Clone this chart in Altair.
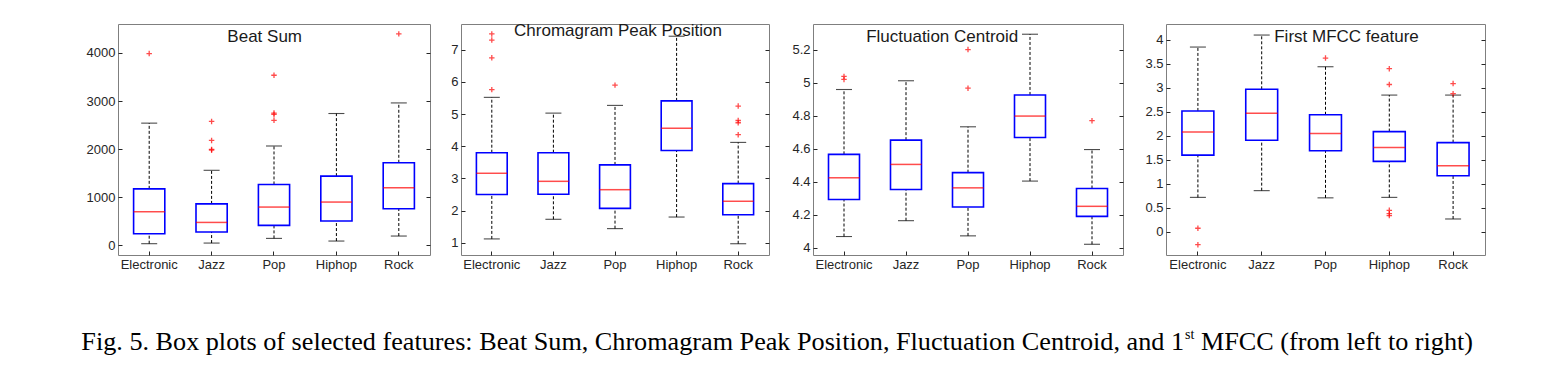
import altair as alt
import pandas as pd

categories = ["Electronic", "Jazz", "Pop", "Hiphop", "Rock"]
titles = ["Beat Sum", "Chromagram Peak Position", "Fluctuation Centroid", "First MFCC feature"]

# Beat Sum
beat_low = [35, 48, 145, 90, 194]
beat_q1 = [242, 277, 415, 505, 761]
beat_med = [699, 477, 796, 900, 1197]
beat_q3 = [1175, 862, 1266, 1439, 1716]
beat_high = [2540, 1560, 2065, 2740, 2960]
beat_out = [[3985], [2575, 2180, 1995, 1978], [3535, 2750, 2720, 2598], [], [4395]]

# Chromagram Peak Position
chroma_low = [1.12, 1.73, 1.44, 1.80, 0.97]
chroma_q1 = [2.50, 2.51, 2.07, 3.87, 1.87]
chroma_med = [3.16, 2.91, 2.65, 4.56, 2.29]
chroma_q3 = [3.80, 3.80, 3.42, 5.41, 2.84]
chroma_high = [5.52, 5.03, 5.27, 7.42, 4.12]
chroma_out = [[7.49, 7.30, 6.75, 5.76], [], [5.90], [], [5.25, 4.80, 4.73, 4.36]]

# Fluctuation Centroid
fluct_low = [4.067, 4.163, 4.071, 4.403, 4.020]
fluct_q1 = [4.291, 4.352, 4.246, 4.667, 4.189]
fluct_med = [4.423, 4.504, 4.362, 4.797, 4.250]
fluct_q3 = [4.565, 4.651, 4.454, 4.925, 4.358]
fluct_high = [4.958, 5.011, 4.732, 5.293, 4.594]
fluct_out = [[5.037, 5.019], [], [5.200, 4.966], [], [4.769]]

# First MFCC feature
mfcc_low = [0.72, 0.86, 0.71, 0.72, 0.27]
mfcc_q1 = [1.60, 1.91, 1.69, 1.47, 1.17]
mfcc_med = [2.08, 2.47, 2.05, 1.76, 1.38]
mfcc_q3 = [2.52, 2.97, 2.44, 2.09, 1.86]
mfcc_high = [3.85, 4.10, 3.44, 2.85, 2.85]
mfcc_out = [[0.077, -0.265], [], [3.62], [3.40, 3.07, 0.45, 0.38, 0.34], [3.09, 2.88]]

y_domains = [[-200, 4600], [0.62, 7.8], [3.955, 5.355], [-0.48, 4.33]]
y_ticks = [[0, 1000, 2000, 3000, 4000],
           [1, 2, 3, 4, 5, 6, 7],
           [4.0, 4.2, 4.4, 4.6, 4.8, 5.0, 5.2],
           [0, 0.5, 1, 1.5, 2, 2.5, 3, 3.5, 4]]
y_formats = ["d", "d", ".1~f", ".1~f"]

caption_a = "Fig. 5. Box plots of selected features: Beat Sum, Chromagram Peak Position, Fluctuation Centroid, and 1"
caption_sup = "st"
caption_b = "MFCC (from left to right)"

# layout / style
widths = [312, 308, 310, 319]
HEIGHT = 231
extents = [44, 30, 43, 42]
title_pos = [(146.7, 17.7), (157, 12), (129.2, 18.3), (180.5, 17.7)]
SANS = "Liberation Sans"
SERIF = "Liberation Serif"
FRAME = "#7f7f7f"
CAP_ORIGIN = 115  # page x of caption view origin
CAP_Y = 76.5


def panel(i, lo, q1, med, q3, hi, outs):
    w = widths[i]
    df = pd.DataFrame({"cat": categories, "lo": lo, "q1": q1, "med": med, "q3": q3, "hi": hi})
    od = pd.DataFrame([{"cat": c, "v": v} for c, vs in zip(categories, outs) for v in vs])
    tdf = pd.DataFrame({"t": [titles[i]]})

    xs = alt.X("cat:N", sort=categories, title=None,
               scale=alt.Scale(paddingInner=0.5, paddingOuter=0.25),
               axis=alt.Axis(labelAngle=0, tickSize=4, offset=-4, domain=False,
                             labelPadding=3, grid=False))
    ysc = alt.Scale(domain=y_domains[i], nice=False, zero=False)
    left_axis = alt.Axis(values=y_ticks[i], format=y_formats[i], tickSize=4, offset=-4,
                         domain=False, labelPadding=3, grid=False,
                         minExtent=extents[i], maxExtent=extents[i])
    right_axis = alt.Axis(orient="right", values=y_ticks[i], labels=False, tickSize=4,
                          offset=-4, domain=False, grid=False, minExtent=0, maxExtent=0)

    base = alt.Chart(df)
    upper = base.mark_rule(color="black", strokeDash=[3, 2], strokeWidth=1).encode(
        x=xs, y=alt.Y("q3:Q", scale=ysc, axis=left_axis, title=None), y2="hi:Q")
    lower = base.mark_rule(color="black", strokeDash=[3, 2], strokeWidth=1).encode(
        x=xs, y=alt.Y("lo:Q", scale=ysc, axis=None, title=None), y2="q1:Q")
    cap_hi = base.mark_tick(color="black", size=16, thickness=1.1).encode(
        x=xs, y=alt.Y("hi:Q", scale=ysc, axis=None, title=None))
    cap_lo = base.mark_tick(color="black", size=16, thickness=1.1).encode(
        x=xs, y=alt.Y("lo:Q", scale=ysc, axis=None, title=None))
    box = base.mark_bar(fillOpacity=0, stroke="#0000ff", strokeWidth=1.6).encode(
        x=xs, y=alt.Y("q1:Q", scale=ysc, axis=None, title=None), y2="q3:Q")
    median = base.mark_tick(color="#ff0000", size=w / 10, thickness=1.5).encode(
        x=xs, y=alt.Y("med:Q", scale=ysc, axis=None, title=None))
    outl = alt.Chart(od).mark_point(shape="M-1,0H1M0,-1V1", filled=False, color="#ff0000",
                                    size=30, strokeWidth=1.3).encode(
        x=xs, y=alt.Y("v:Q", scale=ysc, axis=None, title=None))
    raxis = base.mark_rule(opacity=0).encode(
        x=xs, y=alt.Y("med:Q", scale=ysc, axis=right_axis, title=None))
    ttl = alt.Chart(tdf).mark_text(font=SANS, fontSize=17, color="#1a1a1a", align="center",
                                   baseline="alphabetic").encode(
        text="t:N", x=alt.value(title_pos[i][0]), y=alt.value(title_pos[i][1]))

    return alt.layer(upper, lower, cap_hi, cap_lo, box, median, outl, raxis, ttl).resolve_axis(
        y="independent").properties(width=w, height=HEIGHT)


p1 = panel(0, beat_low, beat_q1, beat_med, beat_q3, beat_high, beat_out)
p2 = panel(1, chroma_low, chroma_q1, chroma_med, chroma_q3, chroma_high, chroma_out)
p3 = panel(2, fluct_low, fluct_q1, fluct_med, fluct_q3, fluct_high, fluct_out)
p4 = panel(3, mfcc_low, mfcc_q1, mfcc_med, mfcc_q3, mfcc_high, mfcc_out)

top = alt.hconcat(p1, p2, p3, p4, spacing=3)

cap1 = alt.Chart(pd.DataFrame({"t": [caption_a]})).mark_text(
    font=SERIF, fontSize=26.2, color="black", align="right", baseline="alphabetic").encode(
    text="t:N", x=alt.value(1181 - CAP_ORIGIN), y=alt.value(CAP_Y))
cap2 = alt.Chart(pd.DataFrame({"t": [caption_sup]})).mark_text(
    font=SERIF, fontSize=14, color="black", align="left", baseline="alphabetic").encode(
    text="t:N", x=alt.value(1182 - CAP_ORIGIN), y=alt.value(CAP_Y - 11))
cap3 = alt.Chart(pd.DataFrame({"t": [caption_b]})).mark_text(
    font=SERIF, fontSize=26.2, color="black", align="left", baseline="alphabetic").encode(
    text="t:N", x=alt.value(1198 - CAP_ORIGIN), y=alt.value(CAP_Y))
caption = alt.layer(cap1, cap2, cap3).properties(
    width=1400, height=86, view=alt.ViewBackground(stroke="transparent"))

chart = alt.vconcat(top, caption, spacing=0).properties(
    padding={"left": 69, "top": 13, "right": 0, "bottom": 0},
    background="white",
).configure_view(stroke=FRAME, strokeWidth=1).configure_axis(
    labelFont=SANS, labelFontSize=13, labelColor="#262626", tickColor="#262626", tickWidth=1)

chart.save("out.html", embed_options={"renderer": "svg", "actions": False})
